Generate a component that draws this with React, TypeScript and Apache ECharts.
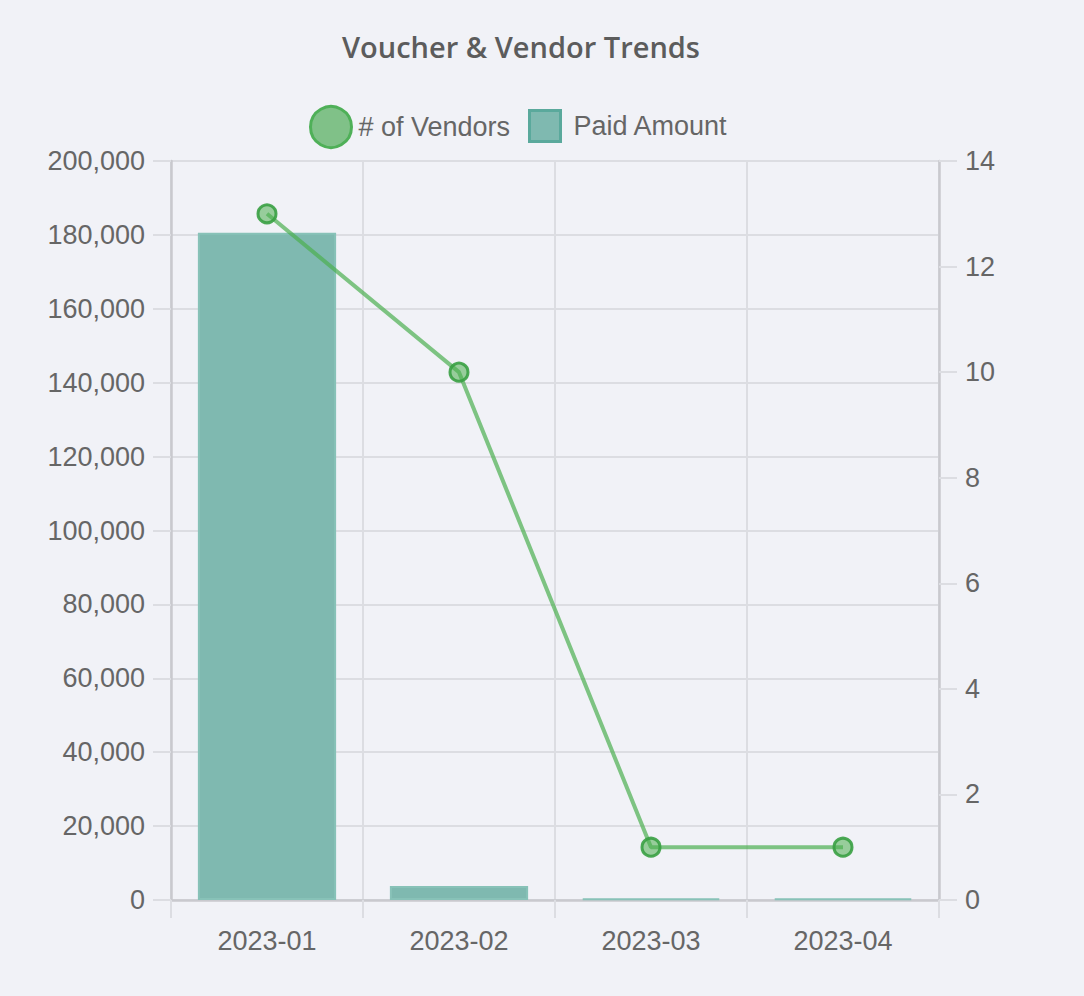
import React, { useEffect, useRef } from "react";
import * as echarts from "echarts";

const categories = ["2023-01", "2023-02", "2023-03", "2023-04"];
const paidAmount = [180600, 3800, 450, 450];
const vendorCount = [13, 10, 1, 1];
const titleText = "Voucher & Vendor Trends";
const vendorsName = "# of Vendors";
const paidName = "Paid Amount";

const GRID_C = "#dcdde2";
const AXIS_C = "#c9c9ce";
const TEXT_C = "#666666";
const FONT = "'Liberation Sans', Arial, Helvetica, sans-serif";
const FS = 27;

export default function App() {
  const ref = useRef<HTMLDivElement>(null);
  useEffect(() => {
    if (!ref.current) return;
    const chart = echarts.init(ref.current, undefined, { renderer: "svg" });
    chart.setOption({
      animation: false,
      backgroundColor: "#f1f2f7",
      textStyle: { fontFamily: FONT },
      graphic: [
        {
          type: "text",
          x: 521,
          y: 46,
          style: {
            text: titleText,
            fill: "#5c5c5c",
            font: "600 29px 'Open Sans', 'Noto Sans', sans-serif",
            textAlign: "center",
            textVerticalAlign: "middle",
          },
        },
      ],
      legend: [
        {
          data: [{ name: vendorsName, icon: "circle" }],
          left: 309,
          top: 105,
          padding: 0,
          itemWidth: 41,
          itemHeight: 41,
          itemStyle: { color: "#80c188", borderColor: "#4fb058", borderWidth: 3 },
          textStyle: { color: TEXT_C, fontSize: FS, fontFamily: FONT, padding: [0, 0, 0, 2] },
        },
        {
          data: [{ name: paidName, icon: "rect" }],
          left: 528,
          top: 109,
          padding: 0,
          itemWidth: 31,
          itemHeight: 31,
          itemStyle: { color: "#7fb9b0", borderColor: "#5aa99c", borderWidth: 3 },
          textStyle: { color: TEXT_C, fontSize: FS, fontFamily: FONT, padding: [0, 0, 0, 8] },
        },
      ],
      grid: { left: 171, right: 145, top: 161, bottom: 96, containLabel: false },
      xAxis: {
        type: "category",
        data: categories,
        boundaryGap: true,
        axisLine: { show: true, lineStyle: { color: AXIS_C, width: 2.5 } },
        axisTick: { show: true, length: 18, lineStyle: { color: GRID_C, width: 2 } },
        splitLine: { show: true, lineStyle: { color: GRID_C, width: 2 } },
        axisLabel: { color: TEXT_C, fontSize: FS, margin: 27, fontFamily: FONT },
      },
      yAxis: [
        {
          type: "value",
          position: "left",
          min: 0,
          max: 200000,
          interval: 20000,
          axisLine: { show: true, lineStyle: { color: AXIS_C, width: 2.5 } },
          axisTick: { show: true, length: 18, lineStyle: { color: GRID_C, width: 2 } },
          splitLine: { show: true, lineStyle: { color: GRID_C, width: 2 } },
          axisLabel: {
            color: TEXT_C,
            fontSize: FS,
            margin: 26,
            fontFamily: FONT,
            formatter: (v: number) => v.toLocaleString("en-US"),
          },
        },
        {
          type: "value",
          position: "right",
          min: 0,
          max: 14,
          interval: 2,
          axisLine: { show: true, lineStyle: { color: AXIS_C, width: 2.5 } },
          axisTick: { show: true, length: 18, lineStyle: { color: GRID_C, width: 2 } },
          splitLine: { show: false },
          axisLabel: { color: TEXT_C, fontSize: FS, margin: 26, fontFamily: FONT },
        },
      ],
      series: [
        {
          name: paidName,
          type: "bar",
          yAxisIndex: 0,
          data: paidAmount,
          barWidth: "72%",
          itemStyle: { color: "#7fb9b0", borderColor: "#88c2b8", borderWidth: 2 },
        },
        {
          name: vendorsName,
          type: "line",
          yAxisIndex: 1,
          data: vendorCount,
          symbol: "circle",
          symbolSize: 18,
          showSymbol: true,
          lineStyle: { color: "rgba(76,175,80,0.7)", width: 4 },
          itemStyle: {
            color: "rgba(76,175,80,0.55)",
            borderColor: "rgba(56,160,66,0.9)",
            borderWidth: 3,
          },
          z: 3,
        },
      ],
    });
    return () => chart.dispose();
  }, []);
  return (
    <div
      ref={ref}
      style={{ position: "absolute", left: 0, top: 0, width: 1084, height: 996 }}
    />
  );
}
